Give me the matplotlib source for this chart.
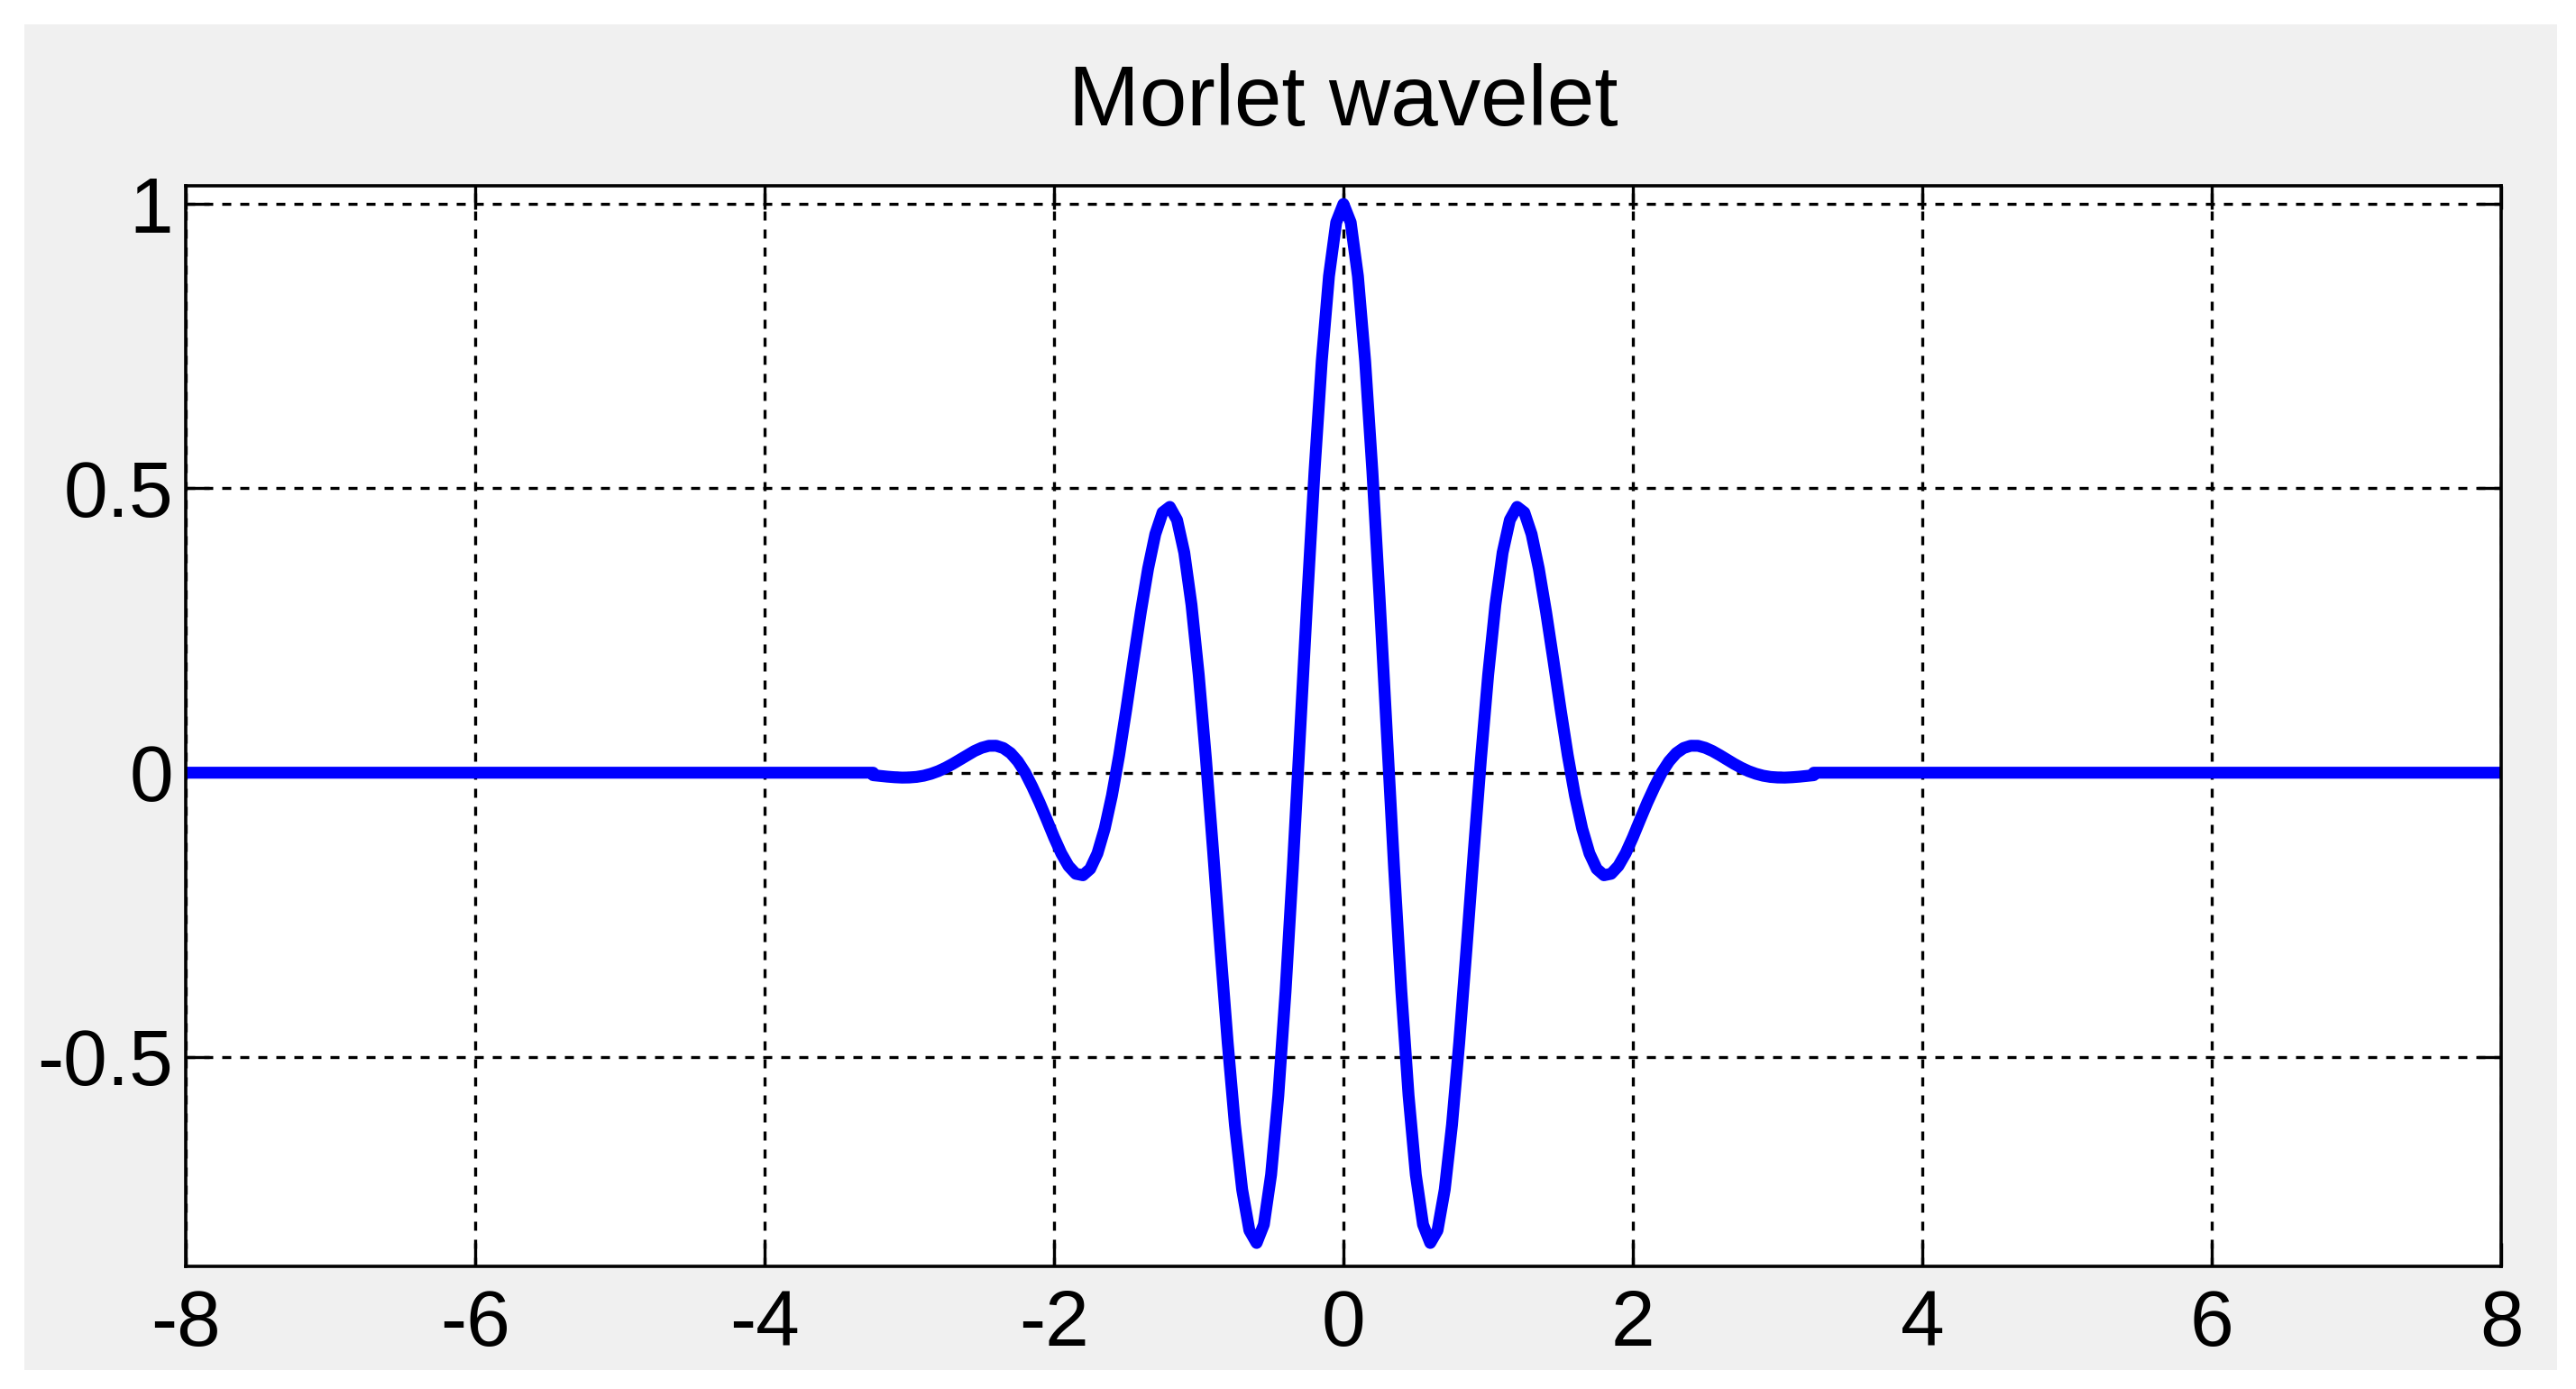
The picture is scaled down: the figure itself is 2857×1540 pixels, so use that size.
import numpy as np
import matplotlib
matplotlib.use("Agg")
import matplotlib.pyplot as plt
from matplotlib.patches import Rectangle

plt.rcParams['font.family'] = ['Liberation Sans', 'DejaVu Sans']
plt.rcParams['axes.unicode_minus'] = False

# wavelet values (x step 0.05 between -3.25 and 3.25)
x_curve = np.linspace(-3.25, 3.25, 131)
y_curve = [
    -0.0044, -0.0057, -0.0070, -0.0080, -0.0086, -0.0084, -0.0074, -0.0053,
    -0.0019, 0.0027, 0.0086, 0.0155, 0.0231, 0.0309, 0.0381, 0.0438,
    0.0473, 0.0474, 0.0433, 0.0344, 0.0200, 0.0004, -0.0248, -0.0524,
    -0.0826, -0.1136, -0.1418, -0.1640, -0.1777, -0.1803, -0.1691, -0.1419,
    -0.0985, -0.0405, 0.0306, 0.1125, 0.1990, 0.2829, 0.3589, 0.4195,
    0.4576, 0.4674, 0.4445, 0.3870, 0.2951, 0.1720, 0.0239, -0.1406,
    -0.3108, -0.4746, -0.6194, -0.7330, -0.8048, -0.8269, -0.7946, -0.7070,
    -0.5677, -0.3842, -0.1677, 0.0676, 0.3056, 0.5296, 0.7235, 0.8732,
    0.9677,
    1.0000,
    0.9677, 0.8732, 0.7235, 0.5296, 0.3056, 0.0676, -0.1677, -0.3842,
    -0.5677, -0.7070, -0.7946, -0.8269, -0.8048, -0.7330, -0.6194, -0.4746,
    -0.3108, -0.1406, 0.0239, 0.1720, 0.2951, 0.3870, 0.4445, 0.4674,
    0.4576, 0.4195, 0.3589, 0.2829, 0.1990, 0.1125, 0.0306, -0.0405,
    -0.0985, -0.1419, -0.1691, -0.1803, -0.1777, -0.1640, -0.1418, -0.1136,
    -0.0826, -0.0524, -0.0248, 0.0004, 0.0200, 0.0344, 0.0433, 0.0474,
    0.0473, 0.0438, 0.0381, 0.0309, 0.0231, 0.0155, 0.0086, 0.0027,
    -0.0019, -0.0053, -0.0074, -0.0084, -0.0086, -0.0080, -0.0070, -0.0057,
    -0.0044,
]
# flat tails outside the support
x_left = [-8.0, -3.25]
x_right = [3.25, 8.0]
y_tail = [0.0, 0.0]

x_ticks = [-8, -6, -4, -2, 0, 2, 4, 6, 8]
y_ticks = [-0.5, 0, 0.5, 1]
y_ticklabels = ['-0.5', '0', '0.5', '1']
title = 'Morlet wavelet'

W, H = 2857, 1540
fig = plt.figure(figsize=(W / 100, H / 100), dpi=100, facecolor='white')
# grey MATLAB figure panel
fig.add_artist(Rectangle((27 / W, 1 - 1519 / H), (2836 - 27) / W, (1519 - 27) / H,
                         transform=fig.transFigure, facecolor='#f0f0f0',
                         edgecolor='none', zorder=-10))

ax = fig.add_axes([206 / W, 1 - 1404 / H, (2774 - 206) / W, (1404 - 206) / H])
ax.set_facecolor('white')

x_all = x_left + list(x_curve) + x_right
y_all = y_tail + list(y_curve) + y_tail
ax.plot(x_all, y_all, color='#0000ff', lw=9.5, solid_joinstyle='round',
        solid_capstyle='butt')

ax.set_xlim(-8, 8)
ax.set_ylim(-0.868, 1.032)
ax.set_xticks(x_ticks)
ax.set_xticklabels([str(t) for t in x_ticks])
ax.set_yticks(y_ticks)
ax.set_yticklabels(y_ticklabels)

ax.grid(True, color='black', linestyle=(0, (3, 3)), linewidth=2.4)
ax.tick_params(direction='in', length=19, width=2.4, top=True, right=True,
               labelsize=63, colors='black')
ax.tick_params(axis='x', pad=18)
ax.tick_params(axis='y', pad=10)
for s in ax.spines.values():
    s.set_linewidth(2.6)
    s.set_color('black')

ax.set_title(title, fontsize=68, pad=48, color='black')

fig.savefig('out.png', dpi=100, facecolor='white')
